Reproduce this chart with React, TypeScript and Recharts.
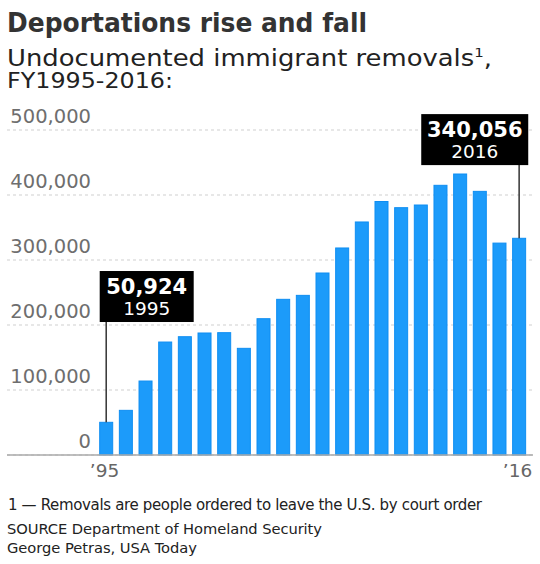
import React from "react";
import { BarChart, Bar, XAxis, YAxis, CartesianGrid } from "recharts";

const years = [1995, 1996, 1997, 1998, 1999, 2000, 2001, 2002, 2003, 2004, 2005, 2006, 2007, 2008, 2009, 2010, 2011, 2012, 2013, 2014, 2015, 2016];
const removals = [50300, 68700, 113800, 173800, 182000, 187700, 188200, 164100, 209700, 239500, 245600, 280000, 318500, 358500, 390000, 380500, 384600, 414900, 432300, 405600, 326000, 333400];

const yTicks = [0, 100000, 200000, 300000, 400000, 500000];
const xTickYears = [1995, 2016];
const xTickLabels = ["\u201995", "\u201916"];

const annotationYears = [1995, 2016];
const annotationValues = ["50,924", "340,056"];
const annotationYearLabels = ["1995", "2016"];

const data = years.map((year, i) => ({ year, removals: removals[i] }));

const FONT = "'DejaVu Sans', sans-serif";
const BAR_FILL = "#1c9bfa";
const BAR_STROKE = "#0f8ef2";

// layout of the callout boxes (value units for the box bottom, pixels for size)
const boxLayouts = [
  { anchor: "left", width: 94, height: 51, bottomValue: 204600, offset: 0 },
  { anchor: "right", width: 107, height: 51, bottomValue: 446000, offset: 2.6 },
];

const BarShape = (props: any) => {
  const { x, y, width, height, payload } = props;
  const rect = (
    <rect x={x} y={y} width={width} height={height} fill={BAR_FILL} stroke={BAR_STROKE} strokeWidth={1} />
  );
  const ai = annotationYears.indexOf(payload.year);
  if (ai < 0) return rect;
  const lay = boxLayouts[ai];
  const pxPerUnit = height / payload.removals;
  const baseY = y + height;
  const boxBottom = baseY - lay.bottomValue * pxPerUnit;
  const boxTop = boxBottom - lay.height;
  const boxLeft = lay.anchor === "left" ? x + lay.offset : x + width + lay.offset - lay.width;
  const cx = boxLeft + lay.width / 2;
  const lineX = x + width / 2;
  return (
    <g>
      {rect}
      <line x1={lineX} x2={lineX} y1={boxBottom} y2={y} stroke="#333" strokeWidth={1.5} />
      <rect x={boxLeft} y={boxTop} width={lay.width} height={lay.height} fill="#000" />
      <text x={cx} y={boxTop + 22.5} textAnchor="middle" fill="#fff" fontFamily={FONT} fontWeight="bold" fontSize={21}>
        {annotationValues[ai]}
      </text>
      <text x={cx} y={boxTop + 44} textAnchor="middle" fill="#fff" fontFamily={FONT} fontSize={18.5}>
        {annotationYearLabels[ai]}
      </text>
    </g>
  );
};

const YTick = (props: any) => {
  const { y, payload } = props;
  return (
    <text x={91} y={y - 7.5} textAnchor="end" fill="#6e6e6e" fontFamily={FONT} fontSize={19.5}>
      {Number(payload.value).toLocaleString("en-US")}
    </text>
  );
};

const XTick = (props: any) => {
  const { x, y, payload } = props;
  const i = xTickYears.indexOf(payload.value);
  if (i < 0) return null;
  return (
    <text x={x - 2} y={y + 12} textAnchor="middle" fill="#666" fontFamily={FONT} fontSize={18.5}>
      {xTickLabels[i]}
    </text>
  );
};

export default function App() {
  return (
    <div style={{ position: "absolute", left: 0, top: 0, width: 540, height: 564, background: "#fff", overflow: "hidden" }}>
      <svg width={540} height={564} style={{ position: "absolute", left: 0, top: 0 }}>
        <text x={7} y={32} fontFamily={FONT} fontWeight="bold" fontSize={26} fill="#333" textLength={360} lengthAdjust="spacingAndGlyphs">
          Deportations rise and fall
        </text>
        <text x={7} y={65.5} fontFamily={FONT} fontSize={22.5} fill="#222" textLength={485} lengthAdjust="spacingAndGlyphs">
          Undocumented immigrant removals<tspan fontSize={13} dy={-8.5}>1</tspan>
          <tspan dy={8.5}>,</tspan>
        </text>
        <text x={7} y={88} fontFamily={FONT} fontSize={22} fill="#222" textLength={166} lengthAdjust="spacingAndGlyphs">
          FY1995-2016:
        </text>
        <text x={8} y={510} fontFamily={FONT} fontSize={15} fill="#222" textLength={474} lengthAdjust="spacing">
          1 — Removals are people ordered to leave the U.S. by court order
        </text>
        <text x={7} y={534} fontFamily={FONT} fontSize={14.7} fill="#222" textLength={315} lengthAdjust="spacing">
          SOURCE Department of Homeland Security
        </text>
        <text x={7} y={553} fontFamily={FONT} fontSize={14.7} fill="#222" textLength={190} lengthAdjust="spacing">
          George Petras, USA Today
        </text>
      </svg>
      <div style={{ position: "absolute", left: 0, top: 0 }}>
        <BarChart width={540} height={564} data={data} margin={{ top: 130, right: 7, bottom: 79, left: 6 }} barSize={13}>
          <CartesianGrid vertical={false} stroke="#cfcfcf" strokeDasharray="3 3" />
          <YAxis
            width={1}
            domain={[0, 500000]}
            ticks={yTicks}
            axisLine={false}
            tickLine={false}
            tick={<YTick />}
            interval={0}
          />
          <XAxis
            dataKey="year"
            height={30}
            padding={{ left: 89.7, right: 3.7 }}
            axisLine={{ stroke: "#aaa", strokeWidth: 1.3 }}
            tickLine={false}
            tickSize={0}
            tickMargin={10}
            interval={0}
            tick={<XTick />}
          />
          <Bar dataKey="removals" isAnimationActive={false} shape={<BarShape />} />
        </BarChart>
      </div>
    </div>
  );
}
